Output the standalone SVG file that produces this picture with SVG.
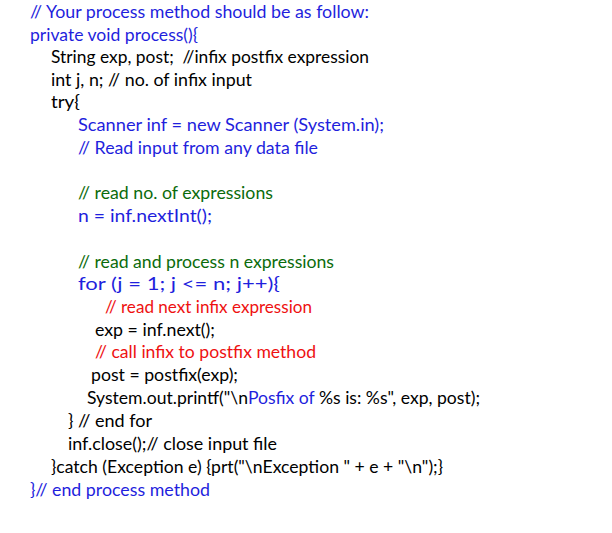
<svg xmlns="http://www.w3.org/2000/svg" width="612" height="533" viewBox="0 0 612 533">
<style>
text{font-family:Lato,"Open Sans",sans-serif;font-size:17px;white-space:pre}
.b{fill:#1f1fdd}.k{fill:#000}.g{fill:#0b6b0b}.r{fill:#ee1111}
</style>
<rect width="612" height="533" fill="#fff"/>
<g id="code" lengthAdjust="spacingAndGlyphs">
<text class="b" x="30" y="18" textLength="339" lengthAdjust="spacingAndGlyphs">// Your process method should be as follow:</text>
<text class="b" x="30" y="41" textLength="168" lengthAdjust="spacingAndGlyphs">private void process(){</text>
<text class="k" x="51" y="63" textLength="318" lengthAdjust="spacingAndGlyphs">String exp, post;  //infix postfix expression</text>
<text class="k" x="51" y="86" textLength="201" lengthAdjust="spacingAndGlyphs">int j, n; // no. of infix input</text>
<text class="k" x="51" y="108" textLength="29" lengthAdjust="spacingAndGlyphs">try{</text>
<text class="b" x="78" y="131" textLength="306" lengthAdjust="spacingAndGlyphs">Scanner inf = new Scanner (System.in);</text>
<text class="b" x="78" y="154" textLength="240" lengthAdjust="spacingAndGlyphs">// Read input from any data file</text>
<text class="g" x="78" y="199" textLength="195" lengthAdjust="spacingAndGlyphs">// read no. of expressions</text>
<text class="b" x="78" y="222" textLength="134" lengthAdjust="spacingAndGlyphs">n = inf.nextInt();</text>
<text class="g" x="78" y="268" textLength="256" lengthAdjust="spacingAndGlyphs">// read and process n expressions</text>
<text class="b" x="78" y="290" textLength="202" lengthAdjust="spacingAndGlyphs">for (j = 1; j &lt;= n; j++){</text>
<text class="r" x="105" y="313" textLength="207" lengthAdjust="spacingAndGlyphs">// read next infix expression</text>
<text class="k" x="95" y="336" textLength="120" lengthAdjust="spacingAndGlyphs">exp = inf.next();</text>
<text class="r" x="95" y="358" textLength="221" lengthAdjust="spacingAndGlyphs">// call infix to postfix method</text>
<text class="k" x="91" y="381" textLength="147" lengthAdjust="spacingAndGlyphs">post = postfix(exp);</text>
<text class="k" x="87" y="404" textLength="393" lengthAdjust="spacingAndGlyphs">System.out.printf("\n<tspan class="b">Posfix of </tspan>%s is: %s", exp, post);</text>
<text class="k" x="68" y="427" textLength="84" lengthAdjust="spacingAndGlyphs">} // end for</text>
<text class="k" x="68" y="450" textLength="209" lengthAdjust="spacingAndGlyphs">inf.close();// close input file</text>
<text class="k" x="51" y="473" textLength="392" lengthAdjust="spacingAndGlyphs">}catch (Exception e) {prt("\nException " + e + "\n");}</text>
<text class="b" x="30" y="496" textLength="180" lengthAdjust="spacingAndGlyphs">}// end process method</text>
</g>
</svg>
